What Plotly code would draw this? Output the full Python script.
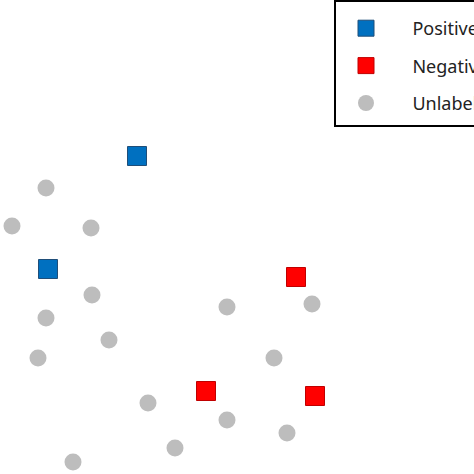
import plotly.graph_objects as go

# Pixel-like coordinates (x right, y down)
pos_x = [137, 48]
pos_y = [156, 269]
neg_x = [296, 206, 315]
neg_y = [277, 391, 396]
unl_x = [46, 12, 91, 92, 46, 227, 312, 109, 38, 274, 148, 227, 287, 175, 73]
unl_y = [188, 226, 228, 295, 318, 307, 304, 340, 358, 358, 403, 420, 433, 448, 462]
names = ["Positive", "Negative", "Unlabeled"]

W = 560  # figure is wider than the window; the right part is cut off like the reference
H = 474
pad = "\u00a0" * 5 + "\u2009"

fig = go.Figure()
fig.add_trace(go.Scatter(x=pos_x, y=pos_y, mode="markers", name=pad + names[0], legendgroup="a",
                         marker=dict(symbol="square", size=19, color="#0070C0",
                                     line=dict(color="#1F4E79", width=1))))
fig.add_trace(go.Scatter(x=neg_x, y=neg_y, mode="markers", name=pad + names[1], legendgroup="b",
                         marker=dict(symbol="square", size=19, color="#FF0000",
                                     line=dict(color="#C00000", width=1))))
fig.add_trace(go.Scatter(x=unl_x, y=unl_y, mode="markers", name=pad + names[2], legendgroup="c",
                         marker=dict(symbol="circle", size=17, color="#BDBDBD",
                                     line=dict(width=0))))

# legend frame
fig.add_shape(type="rect", xref="paper", yref="paper",
              x0=335 / W, x1=540 / W, y0=1 - 126 / H, y1=1 - 1 / H,
              line=dict(color="black", width=2), fillcolor="rgba(0,0,0,0)", layer="above")

fig.update_layout(
    width=W, height=H,
    margin=dict(l=0, r=0, t=0, b=0),
    paper_bgcolor="white", plot_bgcolor="white",
    xaxis=dict(range=[0, W], visible=False, fixedrange=True),
    yaxis=dict(range=[H, 0], visible=False, fixedrange=True),
    showlegend=True,
    legend=dict(x=346 / W, y=1 - 10 / H, xanchor="left", yanchor="top",
                borderwidth=0, bgcolor="rgba(0,0,0,0)",
                font=dict(family="Noto Sans", size=18, color="#222222"),
                traceorder="grouped", tracegroupgap=11, itemsizing="trace"),
)
fig.write_html("out.html", config={"displayModeBar": False},
               post_script="document.body.style.margin='0';document.body.style.overflow='hidden';")
